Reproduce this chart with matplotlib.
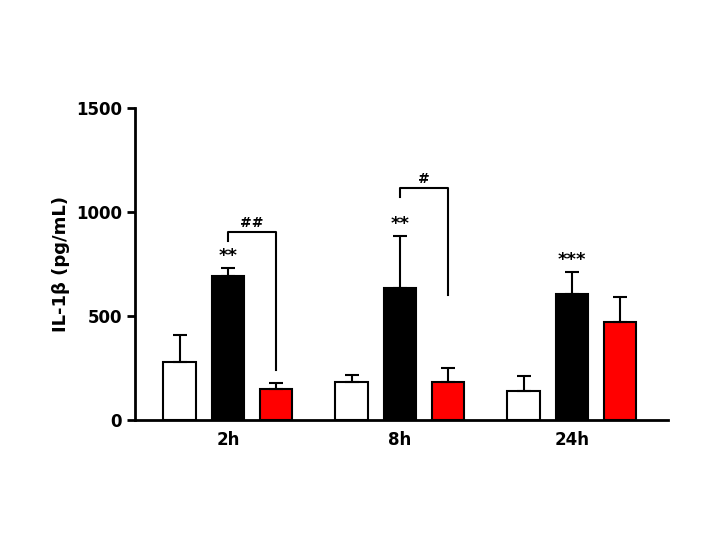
import matplotlib
matplotlib.use("Agg")
import matplotlib.pyplot as plt
import numpy as np

groups = ["2h", "8h", "24h"]
white_vals = [279, 183, 139]
white_err = [130, 33, 73]
black_vals = [692, 635, 606]
black_err = [39, 250, 106]
red_vals = [149, 183, 471]
red_err = [29, 67, 120]
black_stars = ["**", "**", "***"]

fig = plt.figure(figsize=(7.2, 5.4), dpi=100)
ax = fig.add_axes([0.1875, 0.222, 0.7405, 0.578])
x = np.arange(len(groups))
off = 0.28
w = 0.19
ekw = dict(elinewidth=1.5, capsize=5, capthick=1.5, ecolor="black")
for vals, err, dx, col in [(white_vals, white_err, -off, "white"),
                           (black_vals, black_err, 0, "black"),
                           (red_vals, red_err, off, "#ff0000")]:
    ax.bar(x + dx, vals, w, color=col, edgecolor="black", linewidth=1.5,
           yerr=[np.zeros(len(err)), err], error_kw=ekw, zorder=2)

for i, s in enumerate(black_stars):
    ax.text(x[i], black_vals[i] + black_err[i] + 15, s, ha="center", va="bottom",
            fontsize=13, fontweight="bold")

# brackets
ax.plot([x[0], x[0], x[0] + off, x[0] + off], [860, 903, 903, 240], color="black", lw=1.5)
ax.text(x[0] + off / 2, 915, "##", ha="center", va="bottom", fontsize=10, fontweight="bold")
ax.plot([x[1], x[1], x[1] + off, x[1] + off], [1070, 1115, 1115, 600], color="black", lw=1.5)
ax.text(x[1] + off / 2, 1125, "#", ha="center", va="bottom", fontsize=10, fontweight="bold")

ax.set_xlim(-0.54, 2.56)
ax.set_ylim(0, 1500)
ax.set_yticks([0, 500, 1000, 1500])
ax.set_xticks(x)
ax.set_xticklabels(groups)
for lab in ax.get_xticklabels() + ax.get_yticklabels():
    lab.set_fontweight("bold")
    lab.set_fontsize(12)
ax.tick_params(axis="x", length=0, pad=8)
ax.tick_params(axis="y", width=2, length=6)
ax.set_ylabel("IL-1β (pg/mL)", fontsize=13, fontweight="bold")
for s in ["top", "right"]:
    ax.spines[s].set_visible(False)
for s in ["left", "bottom"]:
    ax.spines[s].set_linewidth(2)
fig.savefig("out.png", dpi=100)
